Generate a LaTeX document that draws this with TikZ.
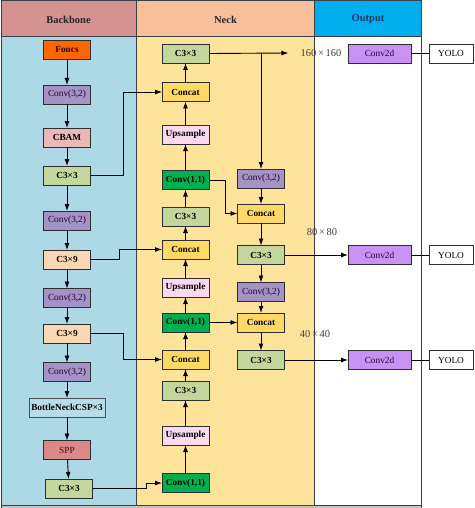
\documentclass[tikz,border=0pt]{standalone}
\usepackage{fontspec}
\setmainfont{Liberation Serif}
\usepackage{xcolor}
\usepackage{tikz}
\usetikzlibrary{positioning,arrows.meta}
\definecolor{bbhead}{HTML}{D49290}
\definecolor{neckhead}{HTML}{F8C09A}
\definecolor{outhead}{HTML}{00AEEF}
\definecolor{outtext}{HTML}{1F3864}
\definecolor{bbbody}{HTML}{ADD8E6}
\definecolor{neckbody}{HTML}{FDE49A}
\definecolor{stripc}{HTML}{C4C4C4}
\definecolor{framec}{HTML}{3A3F48}
\definecolor{focusc}{HTML}{FF6600}
\definecolor{convc}{HTML}{A493C5}
\definecolor{cbamc}{HTML}{E8B9B5}
\definecolor{cthreec}{HTML}{C3D69B}
\definecolor{cninec}{HTML}{FCD7B6}
\definecolor{cspc}{HTML}{B6DDE8}
\definecolor{sppc}{HTML}{D98A88}
\definecolor{catc}{HTML}{FFD966}
\definecolor{upc}{HTML}{FAD8F0}
\definecolor{cvc}{HTML}{00B050}
\definecolor{cvtwoc}{HTML}{C991F4}
\tikzset{
block/.style={
draw=black!82,
line width=0.9pt,
outer sep=0pt,
minimum width=47pt,
minimum height=19pt,
inner sep=1pt,
align=center,
font=\fontsize{9.3}{10}\selectfont
},
boldblock/.style={
block,
font=\fontsize{9.3}{10}\selectfont\bfseries
},
focusbox/.style={boldblock,fill=focusc,text=black!85!red},
convbox/.style={block,fill=convc,text=black!70!violet},
cbambox/.style={boldblock,fill=cbamc},
c3box/.style={boldblock,fill=cthreec},
c9box/.style={boldblock,fill=cninec},
cspbox/.style={boldblock,fill=cspc,draw=black!75!cyan,minimum width=76pt,inner sep=0.5pt},
sppbox/.style={block,fill=sppc,text=black!60!red},
catbox/.style={boldblock,fill=catc},
upbox/.style={boldblock,fill=upc},
cvbox/.style={boldblock,fill=cvc},
c2dbox/.style={block,fill=cvtwoc,minimum width=63pt,text=black!70!violet},
yolobox/.style={block,fill=white,minimum width=44pt},
headtext/.style={font=\fontsize{10.5}{12}\selectfont\bfseries,text=black!85},
sizetext/.style={font=\fontsize{10.5}{12}\selectfont,text=black!75,inner sep=0pt},
frame/.style={draw=framec,line width=1pt},
arrow/.style={
-{Latex[length=7pt,width=5pt]},
line width=0.9pt
},
link/.style={line width=0.9pt}
}

\begin{document}
\begin{tikzpicture}[x=1pt,y=-1pt]
\fill[white] (0,0) rectangle (474,508);
\useasboundingbox (0,0) rectangle (474,508);
\fill[bbbody] (1,37) rectangle (136,505);
\fill[neckbody] (136,37) rectangle (314,505);
\fill[bbhead] (1,1) rectangle (136,37);
\fill[neckhead] (136,1) rectangle (314,37);
\fill[outhead] (314,1) rectangle (421,37);
\fill[stripc] (1,505) rectangle (421,508);
\draw[frame] (1,508) -- (1,1) -- (421,1) -- (421,508);
\draw[frame] (1,37) -- (421,37);
\draw[frame] (136,1) -- (136,505);
\draw[frame] (314,1) -- (314,505);
\draw[frame] (1,505) -- (421,505);

\node[headtext] (hb) at (68.5,19.5) {Backbone};
\node[headtext] (hn) at (225.5,19.5) {Neck};
\node[headtext,text=outtext] (ho) at (368,19.5) {Output};

\node[focusbox] (f) at (67,50) {Foucs};
\node[convbox,below=25.5pt of f] (b1) {Conv(3,2)};
\node[cbambox,below=24pt of b1] (b2) {CBAM};
\node[c3box,below=19pt of b2] (b3) {C3×3};
\node[convbox,below=26pt of b3] (b4) {Conv(3,2)};
\node[c9box,below=20pt of b4] (b5) {C3×9};
\node[convbox,below=19.5pt of b5] (b6) {Conv(3,2)};
\node[c9box,below=16.5pt of b6] (b7) {C3×9};
\node[convbox,below=19.5pt of b7] (b8) {Conv(3,2)};
\node[cspbox,below=16.5pt of b8] (b9) {BottleNeckCSP×3};
\node[sppbox,below=23.5pt of b9] (b10) {SPP};
\node[c3box,below=19.5pt of b10,xshift=2pt] (b11) {C3×3};

\node[c3box] (n1) at (185.5,53.5) {C3×3};
\node[catbox,below=19.5pt of n1] (n2) {Concat};
\node[upbox,below=23.5pt of n2] (n3) {Upsample};
\node[cvbox,below=26.5pt of n3] (n4) {Conv(1,1)};
\node[c3box,below=17.5pt of n4] (n5) {C3×3};
\node[catbox,below=14pt of n5] (n6) {Concat};
\node[upbox,below=19pt of n6] (n7) {Upsample};
\node[cvbox,below=16pt of n7] (n8) {Conv(1,1)};
\node[catbox,below=18pt of n8] (n9) {Concat};
\node[c3box,below=12pt of n9] (n10) {C3×3};
\node[upbox,below=26pt of n10] (n11) {Upsample};
\node[cvbox,below=28.5pt of n11] (n12) {Conv(1,1)};

\node[convbox] (r1) at (261,178.5) {Conv(3,2)};
\node[catbox,below=16pt of r1] (r2) {Concat};
\node[c3box,below=22.5pt of r2] (r3) {C3×3};
\node[convbox,below=18pt of r3] (r4) {Conv(3,2)};
\node[catbox,below=11.5pt of r4] (r5) {Concat};
\node[c3box,below=18.5pt of r5] (r6) {C3×3};

\node[c2dbox] (o1) at (379.5,53.5) {Conv2d};
\node[c2dbox] (o2) at (o1 |- r3) {Conv2d};
\node[c2dbox] (o3) at (o1 |- r6) {Conv2d};
\node[yolobox,right=18pt of o1] (y1) {YOLO};
\node[yolobox,right=18pt of o2] (y2) {YOLO};
\node[yolobox,right=18pt of o3] (y3) {YOLO};

\node[sizetext] (l1) at (321,53) {160\,×\,160};
\node[sizetext] (l2) at (322,232) {80\,×\,80};
\node[sizetext] (l3) at (315,334) {40\,×\,40};

\foreach \x/\y in {f/b1,b1/b2,b2/b3,b3/b4,b4/b5,b5/b6,b6/b7,b7/b8,b8/b9,b9/b10,b10/b11}
\draw[arrow](\x)--(\y);
\foreach \x/\y in {n12/n11,n11/n10,n10/n9,n9/n8,n8/n7,n7/n6,n6/n5,n5/n4,n4/n3,n3/n2,n2/n1}
\draw[arrow](\x)--(\y);
\foreach \x/\y in {r1/r2,r2/r3,r3/r4,r4/r5,r5/r6}
\draw[arrow](\x)--(\y);

\draw[arrow](b3.east)--++(33,0)|-(n2.west);
\draw[arrow](b5.east)--++(29,0)|-(n6.west);
\draw[arrow](b7.east)--++(33,0)|-(n9.west);
\draw[arrow](b11.east)--++(54,0)|-(n12.west);
\draw[arrow](n4.east)--++(16,0)|-(r2.west);
\draw[arrow](n8.east)--(r5.west);
\draw[arrow](n1.east)--([xshift=-12pt]l1.west);
\draw[arrow](r1.north|-n1.east)--(r1.north);
\draw[arrow](r3.east)--(o2.west);
\draw[arrow](r6.east)--(o3.west);

\foreach \x/\y in {o1/y1,o2/y2,o3/y3}
\draw[link](\x)--(\y);
\end{tikzpicture}
\end{document}
